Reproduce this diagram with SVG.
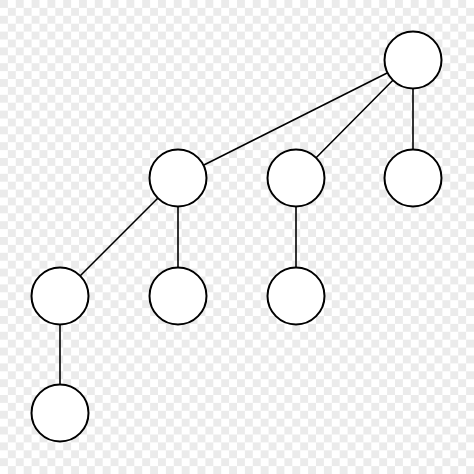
<svg xmlns="http://www.w3.org/2000/svg" width="474" height="474" viewBox="0 0 474 474">
<style>
.node circle{fill:#fff;stroke:#000;stroke-width:2}
.edges line{stroke:#000;stroke-width:1.6}
</style>
<defs>
<pattern id="chk" width="15.8" height="15.8" patternUnits="userSpaceOnUse">
<rect width="15.8" height="15.8" fill="#fff"/>
<rect width="7.9" height="7.9" fill="#ebebeb"/>
<rect x="7.9" y="7.9" width="7.9" height="7.9" fill="#ebebeb"/>
</pattern>
</defs>
<rect width="474" height="474" fill="url(#chk)"/>
<g class="edges">
<line x1="413" y1="60" x2="178" y2="178"/>
<line x1="413" y1="60" x2="296" y2="178"/>
<line x1="413" y1="60" x2="413" y2="178"/>
<line x1="178" y1="178" x2="60" y2="296"/>
<line x1="178" y1="178" x2="178" y2="296"/>
<line x1="296" y1="178" x2="296" y2="296"/>
<line x1="60" y1="296" x2="60" y2="413"/>
</g>
<g id="n1" class="node"><circle cx="413" cy="60" r="28.5"/></g>
<g id="n2" class="node"><circle cx="178" cy="178" r="28.5"/></g>
<g id="n3" class="node"><circle cx="296" cy="178" r="28.5"/></g>
<g id="n4" class="node"><circle cx="413" cy="178" r="28.5"/></g>
<g id="n5" class="node"><circle cx="60" cy="296" r="28.5"/></g>
<g id="n6" class="node"><circle cx="178" cy="296" r="28.5"/></g>
<g id="n7" class="node"><circle cx="296" cy="296" r="28.5"/></g>
<g id="n8" class="node"><circle cx="60" cy="413" r="28.5"/></g>
</svg>
